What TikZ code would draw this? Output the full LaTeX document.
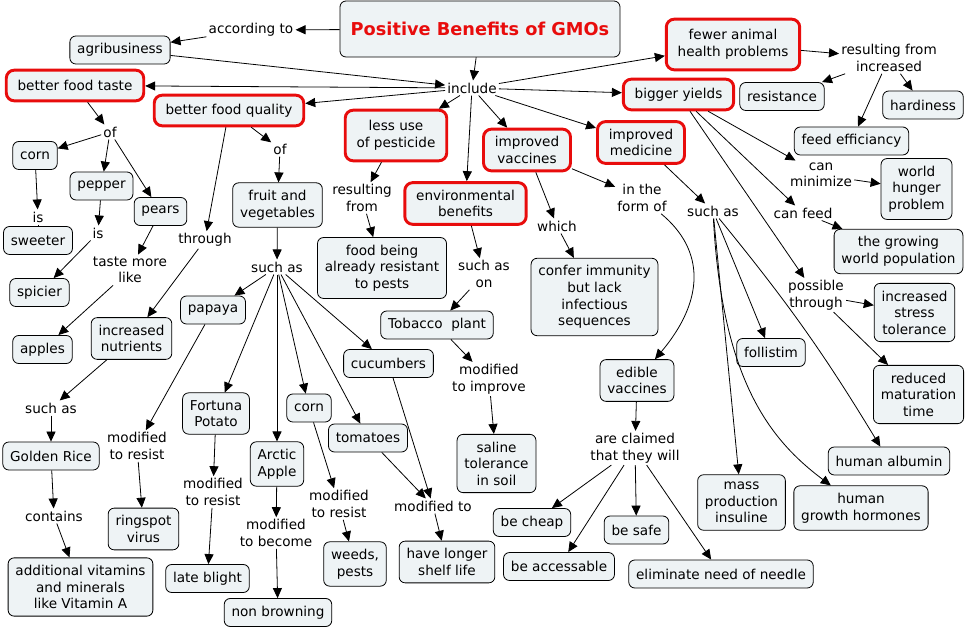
\documentclass[tikz,border=0pt]{standalone}
\usepackage{fontspec}
\setmainfont{DejaVu Sans}
\usetikzlibrary{arrows.meta}
\definecolor{cmapfill}{RGB}{238,243,245}
\definecolor{cmapred}{RGB}{232,12,12}

\begin{document}
\begin{tikzpicture}[
    x=0.75pt, y=-0.75pt,
    every node/.append style={font=\fontsize{10.2}{12.4}\selectfont},
    concept/.style={draw, rounded corners=4.5pt, fill=cmapfill, line width=0.6pt,
                    align=center, inner xsep=5.5pt, inner ysep=5.5pt, minimum height=21pt},
    keybox/.style={concept, draw=cmapred, line width=2.2pt, rounded corners=6pt,
                   inner xsep=8.5pt, minimum height=23pt},
    link/.style={align=center, inner sep=1.5pt},
    arr/.style={-{Triangle[length=7.5pt,width=6.8pt]}, line width=0.6pt}
  ]
  \useasboundingbox (0,0) rectangle (967,630);

  \node[concept, minimum width=210pt, minimum height=42pt, text=cmapred,
        font=\fontsize{13.3}{16}\selectfont\bfseries] (title) at (480,29) {Positive Benefits of GMOs};
  \node[link] (according) at (251,30) {according to};
  \node[link] (include) at (472,88) {include};
  \node[concept] (agri) at (120,50) {agribusiness};

  \node[keybox] (taste) at (75,85.5) {better food taste};
  \node[keybox] (quality) at (229,110.5) {better food quality};
  \node[keybox, minimum height=38pt] (pesticide) at (396,135.5) {less use\\of pesticide};
  \node[keybox] (environ) at (465.5,203.5) {environmental\\benefits};
  \node[keybox] (vaccines) at (527,150) {improved\\vaccines};
  \node[keybox] (medicine) at (641,142.5) {improved\\medicine};
  \node[keybox] (yields) at (678.5,94.5) {bigger yields};
  \node[keybox, minimum height=38pt] (animal) at (733,44.5) {fewer animal\\health problems};

  % fewer animal health problems
  \node[link] (increased) at (889,58) {resulting from\\increased};
  \node[concept] (resistance) at (782,96.5) {resistance};
  \node[concept] (hardiness) at (923,105) {hardiness};
  \node[concept] (feedeff) at (851.5,141) {feed efficiancy};

  % bigger yields
  \node[link] (minimize) at (821,175) {can\\minimize};
  \node[concept] (hunger) at (916.5,189) {world\\hunger\\problem};
  \node[link] (canfeed) at (803,213) {can feed};
  \node[concept] (population) at (898.5,251.5) {the growing\\world population};
  \node[link] (possible) at (816,295) {possible\\through};
  \node[concept] (stress) at (914.5,312.5) {increased\\stress\\tolerance};
  \node[concept] (maturation) at (918.5,394.5) {reduced\\maturation\\time};

  % improved medicine
  \node[link] (suchmed) at (713,211) {such as};
  \node[concept] (follistim) at (771,352.5) {follistim};
  \node[concept] (insuline) at (741.5,502.5) {mass\\production\\insuline};
  \node[concept] (albumin) at (889,461) {human albumin};
  \node[concept] (hormones) at (861,508) {human\\growth hormones};

  % improved vaccines
  \node[link] (formof) at (642,198) {in the\\form of};
  \node[link] (which) at (557,226) {which};
  \node[concept] (immunity) at (594.5,297) {confer immunity\\but lack\\infectious\\sequences};
  \node[concept] (edible) at (637,380.5) {edible\\vaccines};
  \node[link] (claimed) at (635,448) {are claimed\\that they will};
  \node[concept] (cheap) at (532,522.5) {be cheap};
  \node[concept] (accessable) at (559,566.5) {be accessable};
  \node[concept] (safe) at (636.5,530) {be safe};
  \node[concept] (needle) at (721,574) {eliminate need of needle};

  % less use of pesticide, environmental benefits
  \node[link] (resulting) at (362,198) {resulting\\from};
  \node[concept] (resistant) at (382,268) {food being\\already resistant\\to pests};
  \node[link] (suchon) at (484,274) {such as\\on};
  \node[concept] (tobacco) at (437,325) {Tobacco~ plant};
  \node[link] (improve) at (489,379) {modified\\to improve};
  \node[concept] (saline) at (496.5,463.5) {saline\\tolerance\\in soil};

  % better food taste
  \node[link] (oftaste) at (110,132) {of};
  \node[concept] (corntaste) at (35,155.5) {corn};
  \node[concept] (pepper) at (101.5,186) {pepper};
  \node[concept] (pears) at (160.5,211.5) {pears};
  \node[link] (iscorn) at (38,217) {is};
  \node[concept] (sweeter) at (38,240.5) {sweeter};
  \node[link] (ispepper) at (98,233) {is};
  \node[concept] (spicier) at (39.5,292.5) {spicier};
  \node[link] (tastelike) at (130,270) {taste more\\like};
  \node[concept] (apples) at (42.5,349.5) {apples};

  % better food quality
  \node[link] (ofquality) at (280,149) {of};
  \node[concept] (fruit) at (277.5,205) {fruit and\\vegetables};
  \node[link] (through) at (205,240) {through};
  \node[concept] (nutrients) at (131.5,338.5) {increased\\nutrients};
  \node[link] (suchnutr) at (51,408) {such as};
  \node[concept] (golden) at (51,456) {Golden Rice};
  \node[link] (contains) at (54,516) {contains};
  \node[concept] (vitamins) at (80.5,587) {additional vitamins\\and minerals\\like Vitamin A};

  \node[link] (suchfruit) at (277,267) {such as};
  \node[concept] (papaya) at (213,310) {papaya};
  \node[concept] (potato) at (216,413.5) {Fortuna\\Potato};
  \node[concept] (apple) at (277,464) {Arctic\\Apple};
  \node[concept] (cornveg) at (309,408) {corn};
  \node[concept] (tomatoes) at (368,438) {tomatoes};
  \node[concept] (cucumbers) at (388.5,363.5) {cucumbers};
  \node[link] (resistpapaya) at (137,446) {modified\\to resist};
  \node[concept] (ringspot) at (143.5,529) {ringspot\\virus};
  \node[link] (resistpotato) at (213,492) {modified\\to resist};
  \node[concept] (blight) at (207.5,578.5) {late blight};
  \node[link] (become) at (276,533) {modified\\to become};
  \node[concept] (browning) at (278,612.5) {non browning};
  \node[link] (resistcorn) at (339,504) {modified\\to resist};
  \node[concept] (weeds) at (355,564) {weeds,\\pests};
  \node[link] (modto) at (433,506) {modified to};
  \node[concept] (shelf) at (447,562) {have longer\\shelf life};

  \draw[arr] (title) -- (according);
  \draw[arr] (according) -- (agri);
  \draw[arr] (title) -- (include);
  \draw[arr] (agri) -- (include);
  \draw[arr] (include) -- (taste);
  \draw[arr] (include) -- (quality);
  \draw[arr] (include) -- (pesticide);
  \draw[arr] (include) -- (environ);
  \draw[arr] (include) -- (vaccines);
  \draw[arr] (include) -- (medicine);
  \draw[arr] (include) -- (yields);
  \draw[arr] (include) -- (animal);

  \draw[arr] (animal) -- (increased);
  \draw[arr] (increased) -- (resistance);
  \draw[arr] (increased) -- (hardiness);
  \draw[arr] (increased) -- (feedeff);

  \draw[arr] (yields) -- (minimize);
  \draw[arr] (minimize) -- (hunger);
  \draw[arr] (yields) -- (canfeed);
  \draw[arr] (canfeed) -- (population);
  \draw[arr] (yields) -- (possible);
  \draw[arr] (possible) -- (stress);
  \draw[arr] (possible) -- (maturation);

  \draw[arr] (medicine) -- (suchmed);
  \draw[arr] (suchmed) -- (follistim);
  \draw[arr] (suchmed) -- (insuline);
  \draw[arr] (suchmed) to[bend left=4] (albumin);
  \draw[arr] (suchmed) .. controls (722,380) and (770,440) .. (hormones);

  \draw[arr] (vaccines) -- (formof);
  \draw[arr] (formof) .. controls (705,250) and (705,300) .. (edible);
  \draw[arr] (vaccines) -- (which);
  \draw[arr] (which) -- (immunity);
  \draw[arr] (edible) -- (claimed);
  \draw[arr] (claimed) -- (cheap);
  \draw[arr] (claimed) -- (accessable);
  \draw[arr] (claimed) -- (safe);
  \draw[arr] (claimed) -- (needle);

  \draw[arr] (pesticide) -- (resulting);
  \draw[arr] (resulting) -- (resistant);
  \draw[arr] (environ) -- (suchon);
  \draw[arr] (suchon) -- (tobacco);
  \draw[arr] (tobacco) -- (improve);
  \draw[arr] (improve) -- (saline);

  \draw[arr] (taste) -- (oftaste);
  \draw[arr] (oftaste) -- (corntaste);
  \draw[arr] (oftaste) -- (pepper);
  \draw[arr] (oftaste) -- (pears);
  \draw[arr] (corntaste) -- (iscorn);
  \draw[line width=0.6pt] (iscorn) -- (sweeter);
  \draw[arr] (pepper) -- (ispepper);
  \draw[arr] (ispepper) -- (spicier);
  \draw[arr] (pears) -- (tastelike);
  \draw[arr] (tastelike) -- (apples);

  \draw[arr] (quality) -- (ofquality);
  \draw[arr] (ofquality) -- (fruit);
  \draw[arr] (quality) -- (through);
  \draw[arr] (through) -- (nutrients);
  \draw[arr] (nutrients) -- (suchnutr);
  \draw[arr] (suchnutr) -- (golden);
  \draw[arr] (golden) -- (contains);
  \draw[arr] (contains) -- (vitamins);

  \draw[arr] (fruit) -- (suchfruit);
  \draw[arr] (suchfruit) -- (papaya);
  \draw[arr] (suchfruit) -- (potato);
  \draw[arr] (suchfruit) -- (apple);
  \draw[arr] (suchfruit) -- (cornveg);
  \draw[arr] (suchfruit) -- (tomatoes);
  \draw[arr] (suchfruit) -- (cucumbers);
  \draw[arr] (papaya) -- (resistpapaya);
  \draw[arr] (resistpapaya) -- (ringspot);
  \draw[arr] (potato) -- (resistpotato);
  \draw[arr] (resistpotato) -- (blight);
  \draw[arr] (apple) -- (become);
  \draw[arr] (become) -- (browning);
  \draw[arr] (cornveg) -- (resistcorn);
  \draw[arr] (resistcorn) -- (weeds);
  \draw[arr] (tomatoes) -- (modto);
  \draw[arr] (cucumbers) -- (modto);
  \draw[arr] (modto) -- (shelf);
\end{tikzpicture}
\end{document}
